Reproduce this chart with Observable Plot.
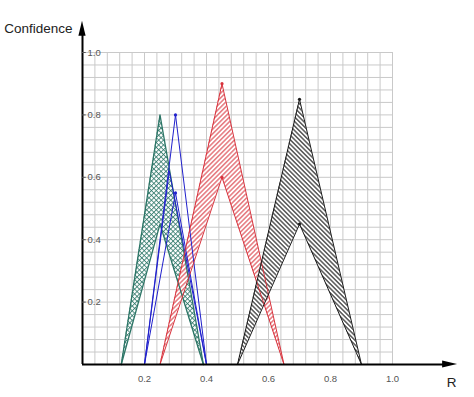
<!DOCTYPE html>
<html><head><meta charset="utf-8">
<script src="https://cdn.jsdelivr.net/npm/d3@7"></script>
<script src="https://cdn.jsdelivr.net/npm/@observablehq/plot@0.6"></script>
<style>body{margin:0;background:#fff;} svg{display:block;}</style>
</head><body><div id="chart"></div>
<script>
// ---- data ----
const series    = ["green", "blue", "red", "black"];
const leftBase  = [0.125, 0.2, 0.25, 0.5];
const rightBase = [0.39, 0.4, 0.65, 0.9];
const peakX     = [0.25, 0.3, 0.45, 0.7];
const upperPeak = [0.8, 0.8, 0.9, 0.85];
const lowerPeak = [0.45, 0.55, 0.6, 0.45];
// an extra inner triangle of the blue number
const extraPeakX = [0.28];
const extraPeakY = [0.62];
const xTicks = [0.2, 0.4, 0.6, 0.8, 1.0];
const yTicks = [0.2, 0.4, 0.6, 0.8, 1.0];
const xTickLabels = ["0.2", "0.4", "0.6", "0.8", "1.0"];
const yTickLabels = ["0.2", "0.4", "0.6", "0.8", "1.0"];
const gridStep = 0.04, gridMax = 1.0;
const xMax = 1.21, yMax = 1.1;

// ---- styles ----
const colors = {green: "#2c7566", blue: "#2020cc", red: "#d8323c", black: "#1a1a1a"};
const fills  = {green: "url(#pat-green)", blue: null, red: "url(#pat-red)", black: "url(#pat-black)"};
const font = "Liberation Sans, Arial, Helvetica, sans-serif";

// ---- derived tables ----
const gridVals = d3.range(1, Math.round(gridMax / gridStep) + 1).map(i => +(i * gridStep).toFixed(4));
const bands = [], tris = [], peaks = [];
series.forEach((s, i) => {
  bands.push({s, x: leftBase[i], y1: 0, y2: 0},
             {s, x: peakX[i], y1: lowerPeak[i], y2: upperPeak[i]},
             {s, x: rightBase[i], y1: 0, y2: 0});
  for (const [k, py] of [["u", upperPeak[i]], ["l", lowerPeak[i]]]) {
    const id = s + k;
    tris.push({s, id, x: leftBase[i], y: 0}, {s, id, x: peakX[i], y: py}, {s, id, x: rightBase[i], y: 0});
    peaks.push({s, x: peakX[i], y: py});
  }
});
extraPeakX.forEach((px, j) => {
  const i = series.indexOf("blue"), id = "blue-extra" + j;
  tris.push({s: "blue", id, x: leftBase[i], y: 0}, {s: "blue", id, x: px, y: extraPeakY[j]}, {s: "blue", id, x: rightBase[i], y: 0});
});

const marks = [
  Plot.ruleX(gridVals, {x: d => d, y1: () => 0, y2: () => gridMax, stroke: "#c9c9c9", strokeWidth: 1}),
  Plot.ruleY(gridVals, {y: d => d, x1: () => 0, x2: () => gridMax, stroke: "#c9c9c9", strokeWidth: 1})
];
for (const s of series) {
  if (fills[s]) marks.push(Plot.areaY(bands.filter(d => d.s === s), {x: "x", y1: "y1", y2: "y2", fill: fills[s]}));
}
for (const s of series) {
  marks.push(Plot.line(tris.filter(d => d.s === s), {x: "x", y: "y", z: "id", stroke: colors[s], strokeWidth: s === "green" ? 1.3 : 1}));
}
for (const s of series) {
  if (s === "green") continue;
  marks.push(Plot.dot(peaks.filter(d => d.s === s), {x: "x", y: "y", r: 1.6, fill: colors[s], stroke: "none"}));
}
marks.push(
  Plot.ruleY([0], {y: d => d, x1: () => 0, x2: () => xMax - 0.04, stroke: "#000", strokeWidth: 2}),
  Plot.ruleX([0], {x: d => d, y1: () => 0, y2: () => yMax - 0.04, stroke: "#000", strokeWidth: 2}),
  Plot.ruleY(yTicks, {y: d => d, x1: () => 0, x2: () => 0.012, stroke: "#555", strokeWidth: 1}),
  Plot.text(yTicks, {x: () => 0, y: d => d, text: (d, i) => yTickLabels[i], dx: 5, textAnchor: "start", fontSize: 9.5, fill: "#555", fontFamily: font}),
  Plot.text(xTicks, {x: d => d, y: () => 0, text: (d, i) => xTickLabels[i], dy: 14, textAnchor: "middle", fontSize: 9.5, fill: "#555", fontFamily: font}),
  Plot.text(["Confidence"], {text: d => d, frameAnchor: "top-left", dx: -10, dy: 2, textAnchor: "end", fontSize: 13.5, fill: "#222", fontFamily: font}),
  Plot.text(["R"], {text: d => d, frameAnchor: "bottom-right", dx: -6, dy: 22, textAnchor: "middle", fontSize: 13.5, fill: "#222", fontFamily: font})
);

const plot = Plot.plot({
  width: 474, height: 397,
  marginLeft: 82, marginRight: 474 - 82 - xMax * 310, marginTop: 364 - yMax * 312, marginBottom: 33,
  x: {domain: [0, xMax], axis: null},
  y: {domain: [0, yMax], axis: null},
  style: {fontFamily: font, background: "#fff"},
  marks
});

// patterns + arrowheads
const ns = "http://www.w3.org/2000/svg";
const defs = document.createElementNS(ns, "defs");
defs.innerHTML = `
<pattern id="pat-red" patternUnits="userSpaceOnUse" width="3.3" height="3.3" patternTransform="rotate(45)">
  <rect width="3.3" height="3.3" fill="#fff"/><line x1="0.8" y1="0" x2="0.8" y2="3.3" stroke="${colors.red}" stroke-width="1"/></pattern>
<pattern id="pat-black" patternUnits="userSpaceOnUse" width="3.2" height="3.2" patternTransform="rotate(-45)">
  <rect width="3.2" height="3.2" fill="#fff"/><line x1="0.8" y1="0" x2="0.8" y2="3.2" stroke="${colors.black}" stroke-width="1.1"/></pattern>
<pattern id="pat-green" patternUnits="userSpaceOnUse" width="3.4" height="3.4" patternTransform="rotate(45)">
  <rect width="3.4" height="3.4" fill="#fff"/><line x1="0.5" y1="0" x2="0.5" y2="3.4" stroke="${colors.green}" stroke-width="0.8"/>
  <line x1="0" y1="0.5" x2="3.4" y2="0.5" stroke="${colors.green}" stroke-width="0.8"/></pattern>`;
plot.insertBefore(defs, plot.firstChild);

const sx = plot.scale("x"), sy = plot.scale("y");
const x0 = sx.apply(0), y0 = sy.apply(0), xe = sx.apply(xMax), ye = sy.apply(yMax);
const head = (d) => { const p = document.createElementNS(ns, "path"); p.setAttribute("d", d); p.setAttribute("fill", "#000"); plot.appendChild(p); };
head(`M${xe},${y0} L${xe - 15},${y0 - 3.6} L${xe - 15},${y0 + 3.6} Z`);
head(`M${x0},${ye} L${x0 - 3.6},${ye + 15} L${x0 + 3.6},${ye + 15} Z`);

document.getElementById("chart").appendChild(plot);
</script>
</body></html>
